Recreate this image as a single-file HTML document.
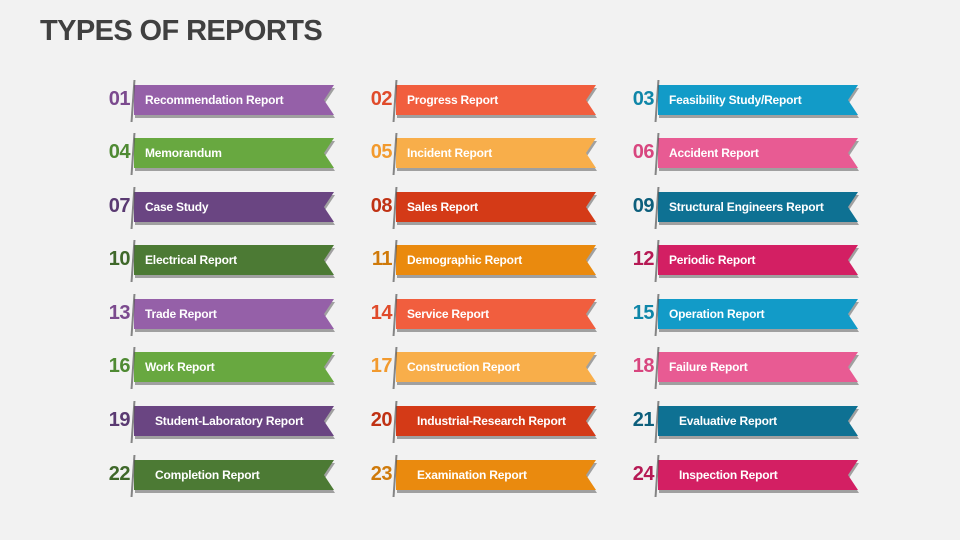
<!DOCTYPE html>
<html><head><meta charset="utf-8"><style>
body{margin:0;width:960px;height:540px;background:#f2f2f2;position:relative;overflow:hidden;font-family:"Liberation Sans",sans-serif}
h1{position:absolute;left:40px;top:15px;margin:0;font-size:29px;font-weight:bold;color:#404040;letter-spacing:-0.6px}
.n{position:absolute;width:30px;text-align:right;font-size:20px;font-weight:bold;line-height:30px;letter-spacing:-0.5px}
.r{position:absolute;width:200px;height:30px;clip-path:polygon(0 0,100% 0,95% 50%,100% 100%,0 100%);color:#fff;font-size:12px;font-weight:bold;line-height:31px;box-sizing:border-box;padding-left:11px;letter-spacing:-0.2px;white-space:nowrap}
.s{position:absolute;width:200px;height:30px;background:#a0a0a0;clip-path:polygon(0 0,100% 0,95% 50%,100% 100%,0 100%)}
.l{position:absolute;width:2px;height:42px;background:#555;transform:skewX(-4deg);opacity:.7}
</style></head><body>
<h1>TYPES OF REPORTS</h1>
<div id="c"></div>
<script>
var items=[
["01","Recommendation Report","#9560a8","#7b4a8e"],["02","Progress Report","#f15e3e","#e04b2b"],["03","Feasibility Study/Report","#129bc8","#0f86a8"],
["04","Memorandum","#68a840","#4f8a33"],["05","Incident Report","#f8ae4a","#f29a2e"],["06","Accident Report","#e85b93","#d8467f"],
["07","Case Study","#6a4582","#5a3a72"],["08","Sales Report","#d43a17","#c03214"],["09","Structural Engineers Report","#0e7193","#0d5f7c"],
["10","Electrical Report","#4c7a34","#3f682a"],["11","Demographic Report","#ea8a0e","#cf7a0a"],["12","Periodic Report","#d31f63","#b61a55"],
["13","Trade Report","#9560a8","#7b4a8e"],["14","Service Report","#f15e3e","#e04b2b"],["15","Operation Report","#129bc8","#0f86a8"],
["16","Work Report","#68a840","#4f8a33"],["17","Construction Report","#f8ae4a","#f29a2e"],["18","Failure Report","#e85b93","#d8467f"],
["19","Student-Laboratory Report","#6a4582","#5a3a72"],["20","Industrial-Research Report","#d43a17","#c03214"],["21","Evaluative Report","#0e7193","#0d5f7c"],
["22","Completion Report","#4c7a34","#3f682a"],["23","Examination Report","#ea8a0e","#cf7a0a"],["24","Inspection Report","#d31f63","#b61a55"]];
var xs=[134,396,658],ys=[85,138,192,245,299,352,406,460],h="";
items.forEach(function(it,i){var x=xs[i%3],y=ys[Math.floor(i/3)],pad=i>=18?21:11;
h+='<div class="s" style="left:'+(x+1)+'px;top:'+(y+3)+'px"></div>';
h+='<div class="r" style="left:'+x+'px;top:'+y+'px;background:'+it[2]+';padding-left:'+pad+'px">'+it[1]+'</div>';
h+='<div class="l" style="left:'+(x-2)+'px;top:'+(y-5)+'px"></div>';
h+='<div class="n" style="left:'+(x-34)+'px;top:'+(y-1)+'px;color:'+it[3]+'">'+it[0]+'</div>';});
document.getElementById("c").innerHTML=h;
</script>
</body></html>
